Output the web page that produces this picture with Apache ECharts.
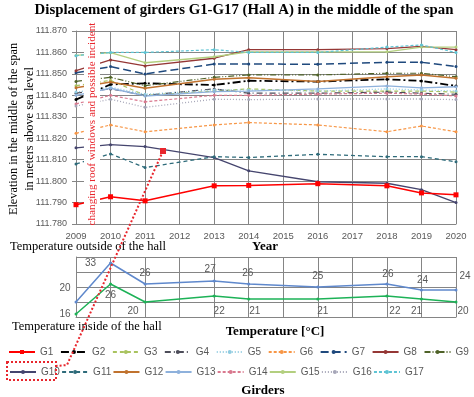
<!DOCTYPE html>
<html><head><meta charset="utf-8">
<script src="https://cdn.jsdelivr.net/npm/echarts@6/dist/echarts.min.js"></script>
<style>html,body{margin:0;padding:0;background:#fff}#c{width:474px;height:397px}</style>
</head><body><div id="c"></div>
<script>
const years = [2009, 2010, 2011, 2013, 2014, 2016, 2018, 2019, 2020];
const G1  = [111.7890, 111.7927, 111.7908, 111.7978, 111.7980, 111.7988, 111.7978, 111.7945, 111.7936];
const G2  = [111.8380, 111.8451, 111.8456, 111.8448, 111.8468, 111.8464, 111.8475, 111.8467, 111.8444];
const G3  = [111.8445, 111.8470, 111.8400, 111.8420, 111.8430, 111.8420, 111.8420, 111.8420, 111.8415];
const G4  = [111.8410, 111.8430, 111.8400, 111.8430, 111.8410, 111.8410, 111.8415, 111.8410, 111.8405];
const G5  = [111.8415, 111.8438, 111.8405, 111.8425, 111.8425, 111.8420, 111.8430, 111.8425, 111.8420];
const G6  = [111.8223, 111.8262, 111.8230, 111.8262, 111.8273, 111.8262, 111.8230, 111.8257, 111.8230];
const G7  = [111.8505, 111.8534, 111.8500, 111.8546, 111.8546, 111.8545, 111.8554, 111.8554, 111.8534];
const G8  = [111.8515, 111.8565, 111.8537, 111.8573, 111.8613, 111.8613, 111.8618, 111.8628, 111.8613];
const G9  = [111.8465, 111.8484, 111.8445, 111.8484, 111.8495, 111.8495, 111.8503, 111.8503, 111.8487];
const G10 = [111.8155, 111.8170, 111.8161, 111.8110, 111.8048, 111.7997, 111.7990, 111.7960, 111.7900];
const G11 = [111.8080, 111.8127, 111.8063, 111.8114, 111.8110, 111.8125, 111.8114, 111.8114, 111.8090];
const G12 = [111.8435, 111.8462, 111.8433, 111.8475, 111.8482, 111.8464, 111.8487, 111.8495, 111.8480];
const G13 = [111.8400, 111.8433, 111.8397, 111.8417, 111.8420, 111.8430, 111.8444, 111.8435, 111.8440];
const G14 = [111.8360, 111.8400, 111.8370, 111.8400, 111.8400, 111.8406, 111.8410, 111.8406, 111.8397];
const G15 = [111.8586, 111.8599, 111.8552, 111.8580, 111.8603, 111.8603, 111.8603, 111.8625, 111.8625];
const G16 = [111.8350, 111.8382, 111.8344, 111.8382, 111.8380, 111.8383, 111.8383, 111.8383, 111.8380];
const G17 = [111.8585, 111.8600, 111.8600, 111.8613, 111.8600, 111.8600, 111.8625, 111.8635, 111.8600];
const girderNames = ['G1','G2','G3','G4','G5','G6','G7','G8','G9','G10','G11','G12','G13','G14','G15','G16','G17'];
const girderValues = [G1,G2,G3,G4,G5,G6,G7,G8,G9,G10,G11,G12,G13,G14,G15,G16,G17];
const tempOutside = [20, 33, 26, 27, 26, 25, 26, 24, 24];
const tempInside  = [16, 26, 20, 22, 21, 21, 22, 21, 20];

// styles (not data)
const girderStyle = [
  {c:'#ff0000', t:'solid', w:1.5, s:'rect', ss:5},
  {c:'#000000', t:[8,3,2,3], w:1.8, s:'circle', ss:3},
  {c:'#a9c35f', t:[4,3], w:1.2, s:'circle', ss:3},
  {c:'#4d4d5a', t:[6,3,1,3], w:1.2, s:'circle', ss:3},
  {c:'#8fcbe0', t:[1,2], w:1.3, s:'circle', ss:3},
  {c:'#f79646', t:[3,2], w:1.2, s:'circle', ss:3},
  {c:'#1f497d', t:[8,4], w:1.5, s:'circle', ss:3},
  {c:'#953735', t:'solid', w:1.3, s:'circle', ss:3},
  {c:'#4f6228', t:[6,2,1,2,1,2], w:1.2, s:'circle', ss:3},
  {c:'#45456e', t:'solid', w:1.3, s:'circle', ss:3},
  {c:'#2e6b7a', t:[4,3], w:1.3, s:'circle', ss:3},
  {c:'#c0722e', t:'solid', w:1.5, s:'circle', ss:3},
  {c:'#8eb1dc', t:'solid', w:1.3, s:'circle', ss:3},
  {c:'#d9798f', t:[3,2], w:1.2, s:'circle', ss:3},
  {c:'#b3cf7f', t:'solid', w:1.3, s:'circle', ss:3},
  {c:'#a6a6b8', t:[1,2], w:1.3, s:'circle', ss:3},
  {c:'#5ec4d4', t:[3,2], w:1.2, s:'circle', ss:3}
];
const outLabelOffsets = [[-11,-14],[-20,0],[0,-11],[-4,-12],[-1,-11],[0,-11],[1,-10],[1,-10],[9,-14]];
const inLabelOffsets  = [[-11,0],[0,11],[-12,9],[5,15],[6,12],[5,12],[8,15],[-5,12],[7,9]];

const series = girderNames.map((n, k) => {
  const st = girderStyle[k];
  return {
    name: n, type: 'line', xAxisIndex: 0, yAxisIndex: 0,
    data: years.map((y, i) => [y, girderValues[k][i]]),
    symbol: st.s, symbolSize: st.ss, showSymbol: true,
    itemStyle: {color: st.c},
    lineStyle: {color: st.c, type: st.t, width: st.w},
    z: k === 0 ? 5 : 3
  };
});
function tempSeries(name, vals, color, offs) {
  return {
    name: name, type: 'line', xAxisIndex: 1, yAxisIndex: 1,
    data: years.map((y, i) => ({value: [y, vals[i]], label: {offset: offs[i]}})),
    symbol: 'circle', symbolSize: 3,
    itemStyle: {color: color}, lineStyle: {color: color, width: 1.5},
    label: {show: true, position: 'inside', formatter: p => p.value[1],
            fontSize: 10, color: '#595959', fontFamily: 'Liberation Sans'}
  };
}
series.push(tempSeries('Temperature outside of the hall', tempOutside, '#5f88cc', outLabelOffsets));
series.push(tempSeries('Temperature inside of the hall', tempInside, '#1db257', inLabelOffsets));

const gridLine = {show: true, lineStyle: {color: '#858585', width: 1}};
const legendCommon = {
  orient: 'horizontal', itemWidth: 26, itemHeight: 5, padding: 0, width: 500,
  textStyle: {fontSize: 10, color: '#595959', fontFamily: 'Liberation Sans'},
  selectedMode: false
};
const red = '#e8262d';
const option = {
  animation: false,
  backgroundColor: '#ffffff',
  grid: [
    {left: 76, right: 18, top: 31, height: 193},
    {left: 76, right: 18, top: 257, height: 60}
  ],
  xAxis: [
    {type: 'value', gridIndex: 0, min: 2009, max: 2020, interval: 1,
     axisLabel: {color: '#595959', fontSize: 9.5, fontFamily: 'Liberation Sans', margin: 7, formatter: v => String(v)},
     axisLine: {show: true, lineStyle: {color: '#858585'}}, axisTick: {show: false}, splitLine: gridLine},
    {type: 'value', gridIndex: 1, min: 2009, max: 2020, interval: 1,
     axisLabel: {show: false}, axisLine: {show: true, lineStyle: {color: '#858585'}}, axisTick: {show: false}, splitLine: gridLine}
  ],
  yAxis: [
    {type: 'value', gridIndex: 0, min: 111.78, max: 111.87, interval: 0.01,
     axisLabel: {color: '#595959', fontSize: 9, fontFamily: 'Liberation Sans', margin: 9, formatter: v => v.toFixed(3)},
     axisLine: {show: true, lineStyle: {color: '#858585'}}, axisTick: {show: true, length: 4, lineStyle: {color: '#858585'}}, splitLine: gridLine},
    {type: 'value', gridIndex: 1, min: 15, max: 35, interval: 5,
     axisLabel: {show: false}, axisLine: {show: true, lineStyle: {color: '#858585'}}, axisTick: {show: false}, splitLine: gridLine}
  ],
  legend: [
    Object.assign({}, legendCommon, {data: girderNames.slice(0, 9), left: 8, top: 347, itemGap: 6.6}),
    Object.assign({}, legendCommon, {data: girderNames.slice(9), left: 9, top: 367, itemGap: 1.2})
  ],
  graphic: {elements: [
    {type: 'text', x: 244, y: 10, z: 50,
     style: {text: 'Displacement of girders G1-G17 (Hall A) in the middle of the span', font: 'bold 14.8px Liberation Serif', fill: '#000', textAlign: 'center', textVerticalAlign: 'middle'}},
    {type: 'text', x: 14, y: 129, rotation: Math.PI / 2, z: 50,
     style: {text: 'Elevation in the middle of the span', font: '12.3px Liberation Serif', fill: '#000', textAlign: 'center', textVerticalAlign: 'middle'}},
    {type: 'text', x: 30, y: 129, rotation: Math.PI / 2, z: 50,
     style: {text: 'in meters above sea level', font: '12.3px Liberation Serif', fill: '#000', textAlign: 'center', textVerticalAlign: 'middle'}},
    {type: 'rect', shape: {x: 84, y: 32, width: 16, height: 191}, z: 40, style: {fill: '#ffffff'}},
    {type: 'text', x: 92, y: 124, rotation: Math.PI / 2, z: 50,
     style: {text: 'changing roof windows and possible incident', font: '11.2px Liberation Serif', fill: red, textAlign: 'center', textVerticalAlign: 'middle'}},
    {type: 'text', x: 265, y: 247, z: 50,
     style: {text: 'Year', font: 'bold 13px Liberation Serif', fill: '#000', textAlign: 'center', textVerticalAlign: 'middle'}},
    {type: 'text', x: 10, y: 247, z: 50,
     style: {text: 'Temperature outside of the hall', font: '12.5px Liberation Serif', fill: '#000', textAlign: 'left', textVerticalAlign: 'middle'}},
    {type: 'text', x: 12, y: 327, z: 50,
     style: {text: 'Temperature inside of the hall', font: '12.5px Liberation Serif', fill: '#000', textAlign: 'left', textVerticalAlign: 'middle'}},
    {type: 'text', x: 275, y: 332, z: 50,
     style: {text: 'Temperature [°C]', font: 'bold 13px Liberation Serif', fill: '#000', textAlign: 'center', textVerticalAlign: 'middle'}},
    {type: 'text', x: 263, y: 391, z: 50,
     style: {text: 'Girders', font: 'bold 13px Liberation Serif', fill: '#000', textAlign: 'center', textVerticalAlign: 'middle'}},
    {type: 'polyline', z: 60, shape: {points: [[163, 151], [67, 365], [56, 366]]},
     style: {stroke: red, lineWidth: 2, lineDash: [2, 2], fill: null}},
    {type: 'rect', z: 60, shape: {x: 160, y: 148, width: 6, height: 6}, style: {fill: red}},
    {type: 'rect', z: 60, shape: {x: 7, y: 362, width: 49, height: 18},
     style: {stroke: red, lineWidth: 2, lineDash: [2, 2], fill: null}}
  ]},
  series: series
};
const chart = echarts.init(document.getElementById('c'), null, {renderer: 'canvas'});
chart.setOption(option);
</script></body></html>
